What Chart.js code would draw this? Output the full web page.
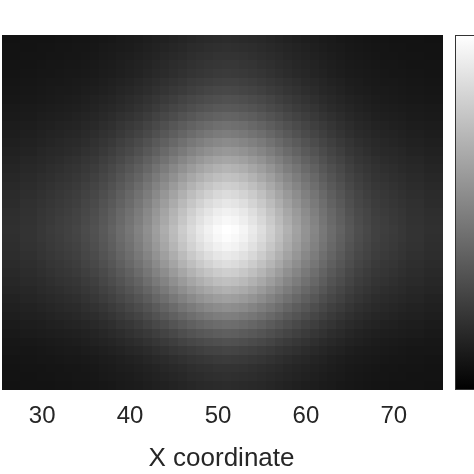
<!DOCTYPE html>
<html><head><meta charset="utf-8">
<script src="https://cdn.jsdelivr.net/npm/chart.js@4"></script>
<style>html,body{margin:0;padding:0;background:#fff}</style>
</head><body>
<canvas id="c" width="474" height="474" style="width:474px;height:474px"></canvas>
<script>
const xCoords = [26,27,28,29,30,31,32,33,34,35,36,37,38,39,40,41,42,43,44,45,46,47,48,49,50,51,52,53,54,55,56,57,58,59,60,61,62,63,64,65,66,67,68,69,70,71,72,73,74,75];
const colProfile = [.06,.06,.07,.07,.08,.09,.10,.11,.12,.14,.16,.19,.22,.26,.30,.35,.41,.48,.55,.63,.71,.79,.86,.92,.97,1,.98,.94,.88,.81,.73,.65,.57,.50,.43,.37,.31,.26,.22,.18,.15,.13,.11,.10,.09,.08,.07,.07,.06,.06];
const rowProfile = [.05,.06,.07,.08,.09,.11,.13,.16,.19,.23,.28,.33,.39,.45,.52,.59,.66,.73,.80,.86,.92,.96,1,.98,.94,.88,.81,.73,.65,.57,.49,.41,.34,.27,.21,.16,.12,.09,.07,.06,.05];
const xTicks = [30,40,50,60,70];

const cells = [];
rowProfile.forEach((r, j) => colProfile.forEach((c, i) => cells.push({x: xCoords[i], y: j, v: r * c})));
const gray = v => { const g = Math.round(14 + 241 * Math.pow(v, 0.7)); return `rgb(${g},${g},${g})`; };

const heat = {
  id: 'heat',
  beforeDatasetsDraw(chart) {
    const {ctx, scales: {x, y}, chartArea: a} = chart;
    ctx.save();
    ctx.beginPath(); ctx.rect(a.left, a.top, a.width, a.height); ctx.clip();
    cells.forEach(d => {
      const x0 = x.getPixelForValue(d.x - 0.5), x1 = x.getPixelForValue(d.x + 0.5);
      const y0 = y.getPixelForValue(d.y - 0.5), y1 = y.getPixelForValue(d.y + 0.5);
      ctx.fillStyle = gray(d.v);
      ctx.fillRect(Math.floor(x0), Math.floor(y0), Math.ceil(x1 - x0) + 1, Math.ceil(y1 - y0) + 1);
    });
    ctx.restore();
    const bx = a.right + 12, bw = 40;
    const grad = ctx.createLinearGradient(0, a.top, 0, a.bottom);
    grad.addColorStop(0, '#fff'); grad.addColorStop(1, '#000');
    ctx.fillStyle = grad; ctx.fillRect(bx, a.top, bw, a.height);
    ctx.strokeStyle = '#333'; ctx.lineWidth = 1; ctx.strokeRect(bx + 0.5, a.top + 0.5, bw, a.height - 1);
  }
};

new Chart(document.getElementById('c'), {
  type: 'scatter',
  data: {datasets: [{data: [], pointRadius: 0}]},
  options: {
    responsive: false, animation: false,
    layout: {padding: {left: -2, right: 31, top: 35, bottom: 0}},
    plugins: {legend: {display: false}, tooltip: {enabled: false}},
    scales: {
      x: {type: 'linear', min: 25.2, max: 75.6,
        afterBuildTicks: s => { s.ticks = xTicks.map(v => ({value: v})); },
        grid: {display: false, drawTicks: false}, border: {display: false},
        ticks: {color: '#262626', font: {family: 'Liberation Sans', size: 24}, padding: 12},
        title: {display: true, text: 'X coordinate', color: '#262626', font: {family: 'Liberation Sans', size: 26}, padding: {top: 0, bottom: 0}}},
      y: {type: 'linear', min: -0.5, max: 40.5, reverse: true, display: false}
    }
  },
  plugins: [heat]
});
</script>
</body></html>
